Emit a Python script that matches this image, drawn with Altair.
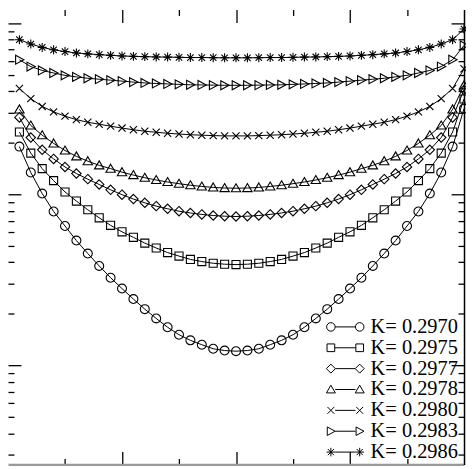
import altair as alt
import pandas as pd

# ---- data ----
x_pos = list(range(1, 41))
labels = ["K= 0.2970", "K= 0.2975", "K= 0.2977", "K= 0.2978", "K= 0.2980", "K= 0.2983", "K= 0.2986"]

k2970 = [0.1898, 0.1339, 0.1009, 0.0793, 0.0652, 0.0536, 0.0450, 0.0381, 0.0325, 0.0281,
         0.0244, 0.0213, 0.0188, 0.0167, 0.0151, 0.0140, 0.0132, 0.0125, 0.0122, 0.0121,
         0.0122, 0.0125, 0.0132, 0.0140, 0.0151, 0.0167, 0.0188, 0.0213, 0.0244, 0.0281,
         0.0325, 0.0381, 0.0450, 0.0536, 0.0652, 0.0793, 0.1009, 0.1339, 0.1898, 0.3162]
k2975 = [0.2310, 0.1739, 0.1411, 0.1201, 0.1031, 0.0912, 0.0811, 0.0728, 0.0658, 0.0603,
         0.0560, 0.0518, 0.0485, 0.0456, 0.0435, 0.0416, 0.0404, 0.0395, 0.0390, 0.0388,
         0.0390, 0.0395, 0.0404, 0.0416, 0.0435, 0.0456, 0.0485, 0.0518, 0.0560, 0.0603,
         0.0658, 0.0728, 0.0811, 0.0912, 0.1031, 0.1201, 0.1411, 0.1739, 0.2310, 0.3604]
k2977 = [0.2811, 0.2144, 0.1818, 0.1608, 0.1443, 0.1321, 0.1225, 0.1140, 0.1061, 0.0994,
         0.0937, 0.0891, 0.0852, 0.0822, 0.0796, 0.0777, 0.0762, 0.0751, 0.0744, 0.0741,
         0.0744, 0.0751, 0.0762, 0.0777, 0.0796, 0.0822, 0.0852, 0.0891, 0.0937, 0.0994,
         0.1061, 0.1140, 0.1225, 0.1321, 0.1443, 0.1608, 0.1818, 0.2144, 0.2811, 0.4071]
k2978 = [0.3133, 0.2522, 0.2213, 0.1982, 0.1802, 0.1665, 0.1560, 0.1475, 0.1411, 0.1346,
         0.1294, 0.1249, 0.1211, 0.1179, 0.1152, 0.1129, 0.1110, 0.1096, 0.1087, 0.1084,
         0.1087, 0.1096, 0.1110, 0.1129, 0.1152, 0.1179, 0.1211, 0.1249, 0.1294, 0.1346,
         0.1411, 0.1475, 0.1560, 0.1665, 0.1802, 0.1982, 0.2213, 0.2522, 0.3133, 0.4328]
k2980 = [0.4146, 0.3619, 0.3259, 0.3028, 0.2859, 0.2728, 0.2634, 0.2565, 0.2499, 0.2435,
         0.2381, 0.2335, 0.2301, 0.2271, 0.2248, 0.2227, 0.2213, 0.2201, 0.2192, 0.2192,
         0.2192, 0.2201, 0.2213, 0.2227, 0.2248, 0.2271, 0.2301, 0.2335, 0.2381, 0.2435,
         0.2499, 0.2565, 0.2634, 0.2728, 0.2859, 0.3028, 0.3259, 0.3619, 0.4146, 0.5407]
k2983 = [0.611, 0.557, 0.529, 0.511, 0.495, 0.485, 0.476, 0.470, 0.464, 0.458,
         0.452, 0.447, 0.444, 0.441, 0.4385, 0.436, 0.435, 0.434, 0.433, 0.433,
         0.433, 0.434, 0.435, 0.436, 0.4385, 0.441, 0.444, 0.447, 0.452, 0.458,
         0.464, 0.470, 0.476, 0.485, 0.495, 0.511, 0.529, 0.557, 0.611, 0.740]
k2986 = [0.800, 0.755, 0.721, 0.698, 0.682, 0.669, 0.661, 0.654, 0.648, 0.643,
         0.639, 0.637, 0.634, 0.633, 0.631, 0.629, 0.629, 0.628, 0.627, 0.627,
         0.627, 0.628, 0.629, 0.629, 0.631, 0.633, 0.634, 0.637, 0.639, 0.643,
         0.648, 0.654, 0.661, 0.669, 0.682, 0.698, 0.721, 0.755, 0.800, 0.924]

series = [k2970, k2975, k2977, k2978, k2980, k2983, k2986]

x_domain = [0, 40]
y_domain = [0.002633, 1.2011]
x_ticks = [5, 10, 15, 20, 25, 30, 35]
y_ticks = [0.003, 0.004, 0.005, 0.006, 0.007, 0.008, 0.009, 0.01,
           0.02, 0.03, 0.04, 0.05, 0.06, 0.07, 0.08, 0.09, 0.1,
           0.2, 0.3, 0.4, 0.5, 0.6, 0.7, 0.8, 0.9, 1.0]

rows = []
for lab, vals in zip(labels, series):
    for xv, yv in zip(x_pos, vals):
        rows.append({"x": xv, "y": yv, "K": lab})
df = pd.DataFrame(rows)

# ---- marker shapes (unit coordinates, style only) ----
def circ(cx, r):
    return f"M{cx + r:.3f},0A{r:.3f},{r:.3f} 0 1,1 {cx - r:.3f},0A{r:.3f},{r:.3f} 0 1,1 {cx + r:.3f},0Z"

def sq(cx, a):
    return f"M{cx - a:.3f},{-a:.3f}L{cx + a:.3f},{-a:.3f}L{cx + a:.3f},{a:.3f}L{cx - a:.3f},{a:.3f}Z"

def dia(cx, a):
    return f"M{cx:.3f},{-a:.3f}L{cx + a:.3f},0L{cx:.3f},{a:.3f}L{cx - a:.3f},0Z"

def tri_up(cx, a):
    return f"M{cx:.3f},{-a:.3f}L{cx + a * 1.05:.3f},{a * 0.8:.3f}L{cx - a * 1.05:.3f},{a * 0.8:.3f}Z"

def xmark(cx, a):
    b = a * 0.8
    return f"M{cx - b:.3f},{-b:.3f}L{cx + b:.3f},{b:.3f}M{cx - b:.3f},{b:.3f}L{cx + b:.3f},{-b:.3f}"

def tri_right(cx, a):
    return f"M{cx - a * 0.85:.3f},{-a:.3f}L{cx + a:.3f},0L{cx - a * 0.85:.3f},{a:.3f}Z"

def star(cx, a):
    d = a * 0.72
    return (f"M{cx - a:.3f},0L{cx + a:.3f},0M{cx:.3f},{-a:.3f}L{cx:.3f},{a:.3f}"
            f"M{cx - d:.3f},{-d:.3f}L{cx + d:.3f},{d:.3f}M{cx - d:.3f},{d:.3f}L{cx + d:.3f},{-d:.3f}")

makers = [circ, sq, dia, tri_up, xmark, tri_right, star]
scale_adj = [1.0, 0.9, 1.05, 1.0, 1.0, 1.0, 1.0]

# data markers: size 100 -> 5 px per unit
marker_paths = [m(0, 0.9 * s) for m, s in zip(makers, scale_adj)]

# legend symbols: marker - line - marker; size 400 -> 10 px per unit
LU = 10.0
c = 14.5 / LU
a = 4.3 / LU
legend_paths = []
for m, s in zip(makers, scale_adj):
    aa = a * s
    p = m(-c, aa) + m(c, aa) + f"M{-c + aa:.3f},0L{c - aa:.3f},0"
    legend_paths.append(p)

W, H = 459, 458

major_x = "datum.value % 10 === 0"
major_y = "abs(log(datum.value)/LN10 - round(log(datum.value)/LN10)) < 0.001"

def x_axis(orient, domain):
    kw = dict(orient=orient, values=x_ticks, labels=False, title=None, grid=False,
              tickColor="black", tickWidth=1.3,
              tickSize={"condition": {"test": major_x, "value": -13}, "value": -6},
              domain=domain)
    if domain:
        kw.update(domainColor="#999999", domainWidth=2.5)
    return alt.Axis(**kw)

def y_axis(orient, domain):
    kw = dict(orient=orient, values=y_ticks, labels=False, title=None, grid=False,
              tickColor="black", tickWidth=1.3,
              tickSize={"condition": {"test": major_y, "value": -13}, "value": -6},
              domain=domain)
    if domain:
        kw.update(domainColor="black", domainWidth=1.5)
    return alt.Axis(**kw)

xs = alt.Scale(domain=x_domain, nice=False, zero=False)
ys = alt.Scale(type="log", domain=y_domain, nice=False)

base = alt.Chart(df)

lines = base.mark_line(color="black", strokeWidth=1).encode(
    x=alt.X("x:Q", scale=xs, axis=x_axis("bottom", True)),
    y=alt.Y("y:Q", scale=ys, axis=y_axis("left", False)),
    detail="K:N",
    order="x:Q",
)

points = base.mark_point(filled=False, color="black", strokeWidth=1.1, size=100, opacity=1).encode(
    x=alt.X("x:Q", scale=xs, axis=x_axis("top", False)),
    y=alt.Y("y:Q", scale=ys, axis=y_axis("right", True)),
    shape=alt.Shape("K:N", scale=alt.Scale(domain=labels, range=marker_paths), legend=None),
)

legend_layer = base.transform_filter("datum.x < 0").mark_point(
    filled=False, color="black", strokeWidth=1, size=400, opacity=1
).encode(
    shape=alt.Shape(
        "K:N",
        scale=alt.Scale(domain=labels, range=legend_paths),
        legend=alt.Legend(
            orient="none", legendX=329, legendY=309, title=None,
            labelFont="Liberation Serif", labelFontSize=20.5, labelColor="black",
            labelOffset=15, symbolSize=400, symbolStrokeColor="black",
            symbolStrokeWidth=1, symbolFillColor="transparent", rowPadding=-1, padding=0,
        ),
    ),
)

chart = alt.layer(lines, points, legend_layer).resolve_scale(
    shape="independent"
).resolve_axis(x="independent", y="independent").properties(
    width=W, height=H,
    autosize=alt.AutoSizeParams(type="none"),
    padding={"left": 0, "top": 0, "right": 2, "bottom": 0},
).configure_view(stroke=None)

chart.save("out.html", embed_options={"renderer": "svg", "actions": False})
